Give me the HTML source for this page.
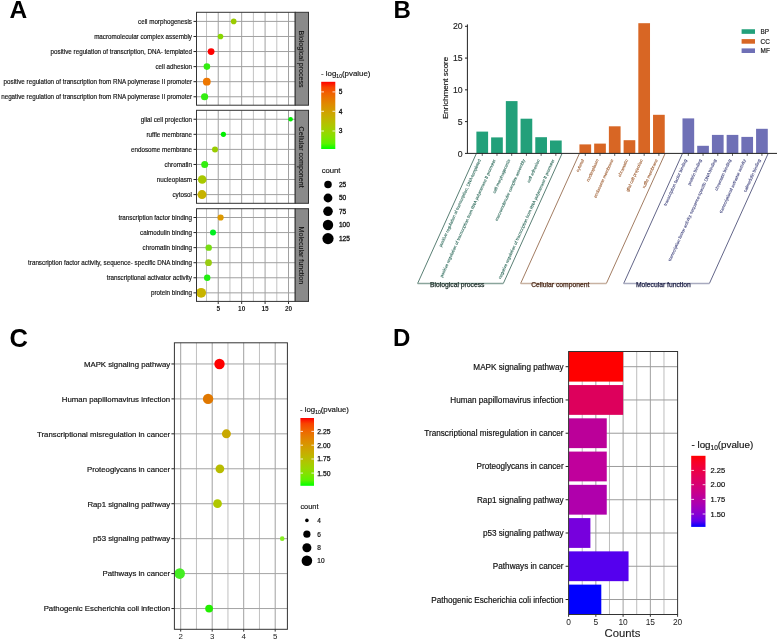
<!DOCTYPE html>
<html><head><meta charset="utf-8"><style>
html,body{margin:0;padding:0;background:#fff;}
svg{display:block;will-change:transform;font-family:"Liberation Sans", sans-serif;}
</style></head><body>
<svg width="777" height="640" viewBox="0 0 777 640">
<rect x="0" y="0" width="777" height="640" fill="#fff"/>
<text x="9.60" y="17.60" font-size="24.50" text-anchor="start" fill="#000" font-weight="bold" >A</text>
<rect x="196.50" y="12.30" width="98.70" height="92.90" fill="#fff" />
<line x1="206.52" y1="12.30" x2="206.52" y2="105.20" stroke="#c2c2c2" stroke-width="1.00"/>
<line x1="229.94" y1="12.30" x2="229.94" y2="105.20" stroke="#c2c2c2" stroke-width="1.00"/>
<line x1="253.38" y1="12.30" x2="253.38" y2="105.20" stroke="#c2c2c2" stroke-width="1.00"/>
<line x1="276.81" y1="12.30" x2="276.81" y2="105.20" stroke="#c2c2c2" stroke-width="1.00"/>
<line x1="218.23" y1="12.30" x2="218.23" y2="105.20" stroke="#a0a0a0" stroke-width="1.00"/>
<line x1="241.66" y1="12.30" x2="241.66" y2="105.20" stroke="#a0a0a0" stroke-width="1.00"/>
<line x1="265.09" y1="12.30" x2="265.09" y2="105.20" stroke="#a0a0a0" stroke-width="1.00"/>
<line x1="288.52" y1="12.30" x2="288.52" y2="105.20" stroke="#a0a0a0" stroke-width="1.00"/>
<line x1="196.50" y1="21.40" x2="295.20" y2="21.40" stroke="#a0a0a0" stroke-width="1.00"/>
<line x1="196.50" y1="36.47" x2="295.20" y2="36.47" stroke="#a0a0a0" stroke-width="1.00"/>
<line x1="196.50" y1="51.54" x2="295.20" y2="51.54" stroke="#a0a0a0" stroke-width="1.00"/>
<line x1="196.50" y1="66.61" x2="295.20" y2="66.61" stroke="#a0a0a0" stroke-width="1.00"/>
<line x1="196.50" y1="81.68" x2="295.20" y2="81.68" stroke="#a0a0a0" stroke-width="1.00"/>
<line x1="196.50" y1="96.75" x2="295.20" y2="96.75" stroke="#a0a0a0" stroke-width="1.00"/>
<circle cx="233.70" cy="21.40" r="2.80" fill="#9acb00"/>
<line x1="193.50" y1="21.40" x2="196.50" y2="21.40" stroke="#222" stroke-width="1.00"/>
<text x="192.00" y="24.00" font-size="6.27" text-anchor="end" fill="#111" font-weight="normal" stroke="#111" stroke-width="0.15" >cell morphogenesis</text>
<circle cx="220.50" cy="36.47" r="2.80" fill="#88d800"/>
<line x1="193.50" y1="36.47" x2="196.50" y2="36.47" stroke="#222" stroke-width="1.00"/>
<text x="192.00" y="39.07" font-size="6.27" text-anchor="end" fill="#111" font-weight="normal" stroke="#111" stroke-width="0.15" >macromolecular complex assembly</text>
<circle cx="211.10" cy="51.54" r="3.40" fill="#ff0000"/>
<line x1="193.50" y1="51.54" x2="196.50" y2="51.54" stroke="#222" stroke-width="1.00"/>
<text x="192.00" y="54.14" font-size="6.27" text-anchor="end" fill="#111" font-weight="normal" stroke="#111" stroke-width="0.15" >positive regulation of transcription, DNA- templated</text>
<circle cx="206.90" cy="66.61" r="3.30" fill="#33ee11"/>
<line x1="193.50" y1="66.61" x2="196.50" y2="66.61" stroke="#222" stroke-width="1.00"/>
<text x="192.00" y="69.21" font-size="6.27" text-anchor="end" fill="#111" font-weight="normal" stroke="#111" stroke-width="0.15" >cell adhesion</text>
<circle cx="206.80" cy="81.68" r="3.90" fill="#ee7700"/>
<line x1="193.50" y1="81.68" x2="196.50" y2="81.68" stroke="#222" stroke-width="1.00"/>
<text x="192.00" y="84.28" font-size="6.27" text-anchor="end" fill="#111" font-weight="normal" stroke="#111" stroke-width="0.15" >positive regulation of transcription from RNA polymerase II promoter</text>
<circle cx="204.60" cy="96.75" r="3.60" fill="#33ee11"/>
<line x1="193.50" y1="96.75" x2="196.50" y2="96.75" stroke="#222" stroke-width="1.00"/>
<text x="192.00" y="99.35" font-size="6.27" text-anchor="end" fill="#111" font-weight="normal" stroke="#111" stroke-width="0.15" >negative regulation of transcription from RNA polymerase II promoter</text>
<rect x="196.50" y="12.30" width="98.70" height="92.90" fill="none" stroke="#333" stroke-width="1"/>
<rect x="295.20" y="12.30" width="13.30" height="92.90" fill="#8a8a8a" stroke="#333" stroke-width="1"/>
<text x="0" y="0" font-size="7.1" text-anchor="middle" fill="#111" stroke="#111" stroke-width="0.12" transform="translate(299.00 59.05) rotate(90)">Biological process</text>
<rect x="196.50" y="110.30" width="98.70" height="93.00" fill="#fff" />
<line x1="206.52" y1="110.30" x2="206.52" y2="203.30" stroke="#c2c2c2" stroke-width="1.00"/>
<line x1="229.94" y1="110.30" x2="229.94" y2="203.30" stroke="#c2c2c2" stroke-width="1.00"/>
<line x1="253.38" y1="110.30" x2="253.38" y2="203.30" stroke="#c2c2c2" stroke-width="1.00"/>
<line x1="276.81" y1="110.30" x2="276.81" y2="203.30" stroke="#c2c2c2" stroke-width="1.00"/>
<line x1="218.23" y1="110.30" x2="218.23" y2="203.30" stroke="#a0a0a0" stroke-width="1.00"/>
<line x1="241.66" y1="110.30" x2="241.66" y2="203.30" stroke="#a0a0a0" stroke-width="1.00"/>
<line x1="265.09" y1="110.30" x2="265.09" y2="203.30" stroke="#a0a0a0" stroke-width="1.00"/>
<line x1="288.52" y1="110.30" x2="288.52" y2="203.30" stroke="#a0a0a0" stroke-width="1.00"/>
<line x1="196.50" y1="119.25" x2="295.20" y2="119.25" stroke="#a0a0a0" stroke-width="1.00"/>
<line x1="196.50" y1="134.32" x2="295.20" y2="134.32" stroke="#a0a0a0" stroke-width="1.00"/>
<line x1="196.50" y1="149.39" x2="295.20" y2="149.39" stroke="#a0a0a0" stroke-width="1.00"/>
<line x1="196.50" y1="164.46" x2="295.20" y2="164.46" stroke="#a0a0a0" stroke-width="1.00"/>
<line x1="196.50" y1="179.53" x2="295.20" y2="179.53" stroke="#a0a0a0" stroke-width="1.00"/>
<line x1="196.50" y1="194.60" x2="295.20" y2="194.60" stroke="#a0a0a0" stroke-width="1.00"/>
<circle cx="290.60" cy="119.25" r="2.30" fill="#00ee00"/>
<line x1="193.50" y1="119.25" x2="196.50" y2="119.25" stroke="#222" stroke-width="1.00"/>
<text x="192.00" y="121.85" font-size="6.27" text-anchor="end" fill="#111" font-weight="normal" stroke="#111" stroke-width="0.15" >glial cell projection</text>
<circle cx="223.40" cy="134.32" r="2.60" fill="#00ee00"/>
<line x1="193.50" y1="134.32" x2="196.50" y2="134.32" stroke="#222" stroke-width="1.00"/>
<text x="192.00" y="136.92" font-size="6.27" text-anchor="end" fill="#111" font-weight="normal" stroke="#111" stroke-width="0.15" >ruffle membrane</text>
<circle cx="215.00" cy="149.39" r="3.00" fill="#99cc00"/>
<line x1="193.50" y1="149.39" x2="196.50" y2="149.39" stroke="#222" stroke-width="1.00"/>
<text x="192.00" y="151.99" font-size="6.27" text-anchor="end" fill="#111" font-weight="normal" stroke="#111" stroke-width="0.15" >endosome membrane</text>
<circle cx="204.70" cy="164.46" r="3.50" fill="#33ee11"/>
<line x1="193.50" y1="164.46" x2="196.50" y2="164.46" stroke="#222" stroke-width="1.00"/>
<text x="192.00" y="167.06" font-size="6.27" text-anchor="end" fill="#111" font-weight="normal" stroke="#111" stroke-width="0.15" >chromatin</text>
<circle cx="202.20" cy="179.53" r="4.30" fill="#a8c800"/>
<line x1="193.50" y1="179.53" x2="196.50" y2="179.53" stroke="#222" stroke-width="1.00"/>
<text x="192.00" y="182.13" font-size="6.27" text-anchor="end" fill="#111" font-weight="normal" stroke="#111" stroke-width="0.15" >nucleoplasm</text>
<circle cx="202.00" cy="194.60" r="4.50" fill="#c6b200"/>
<line x1="193.50" y1="194.60" x2="196.50" y2="194.60" stroke="#222" stroke-width="1.00"/>
<text x="192.00" y="197.20" font-size="6.27" text-anchor="end" fill="#111" font-weight="normal" stroke="#111" stroke-width="0.15" >cytosol</text>
<rect x="196.50" y="110.30" width="98.70" height="93.00" fill="none" stroke="#333" stroke-width="1"/>
<rect x="295.20" y="110.30" width="13.30" height="93.00" fill="#8a8a8a" stroke="#333" stroke-width="1"/>
<text x="0" y="0" font-size="7.1" text-anchor="middle" fill="#111" stroke="#111" stroke-width="0.12" transform="translate(299.00 157.10) rotate(90)">Cellular component</text>
<rect x="196.50" y="208.70" width="98.70" height="92.70" fill="#fff" />
<line x1="206.52" y1="208.70" x2="206.52" y2="301.40" stroke="#c2c2c2" stroke-width="1.00"/>
<line x1="229.94" y1="208.70" x2="229.94" y2="301.40" stroke="#c2c2c2" stroke-width="1.00"/>
<line x1="253.38" y1="208.70" x2="253.38" y2="301.40" stroke="#c2c2c2" stroke-width="1.00"/>
<line x1="276.81" y1="208.70" x2="276.81" y2="301.40" stroke="#c2c2c2" stroke-width="1.00"/>
<line x1="218.23" y1="208.70" x2="218.23" y2="301.40" stroke="#a0a0a0" stroke-width="1.00"/>
<line x1="241.66" y1="208.70" x2="241.66" y2="301.40" stroke="#a0a0a0" stroke-width="1.00"/>
<line x1="265.09" y1="208.70" x2="265.09" y2="301.40" stroke="#a0a0a0" stroke-width="1.00"/>
<line x1="288.52" y1="208.70" x2="288.52" y2="301.40" stroke="#a0a0a0" stroke-width="1.00"/>
<line x1="196.50" y1="217.50" x2="295.20" y2="217.50" stroke="#a0a0a0" stroke-width="1.00"/>
<line x1="196.50" y1="232.57" x2="295.20" y2="232.57" stroke="#a0a0a0" stroke-width="1.00"/>
<line x1="196.50" y1="247.64" x2="295.20" y2="247.64" stroke="#a0a0a0" stroke-width="1.00"/>
<line x1="196.50" y1="262.71" x2="295.20" y2="262.71" stroke="#a0a0a0" stroke-width="1.00"/>
<line x1="196.50" y1="277.78" x2="295.20" y2="277.78" stroke="#a0a0a0" stroke-width="1.00"/>
<line x1="196.50" y1="292.85" x2="295.20" y2="292.85" stroke="#a0a0a0" stroke-width="1.00"/>
<circle cx="220.60" cy="217.50" r="3.10" fill="#dd9900"/>
<line x1="193.50" y1="217.50" x2="196.50" y2="217.50" stroke="#222" stroke-width="1.00"/>
<text x="192.00" y="220.10" font-size="6.27" text-anchor="end" fill="#111" font-weight="normal" stroke="#111" stroke-width="0.15" >transcription factor binding</text>
<circle cx="213.00" cy="232.57" r="3.00" fill="#00ee22"/>
<line x1="193.50" y1="232.57" x2="196.50" y2="232.57" stroke="#222" stroke-width="1.00"/>
<text x="192.00" y="235.17" font-size="6.27" text-anchor="end" fill="#111" font-weight="normal" stroke="#111" stroke-width="0.15" >calmodulin binding</text>
<circle cx="208.70" cy="247.64" r="3.20" fill="#77dd11"/>
<line x1="193.50" y1="247.64" x2="196.50" y2="247.64" stroke="#222" stroke-width="1.00"/>
<text x="192.00" y="250.24" font-size="6.27" text-anchor="end" fill="#111" font-weight="normal" stroke="#111" stroke-width="0.15" >chromatin binding</text>
<circle cx="208.50" cy="262.71" r="3.40" fill="#99cc11"/>
<line x1="193.50" y1="262.71" x2="196.50" y2="262.71" stroke="#222" stroke-width="1.00"/>
<text x="192.00" y="265.31" font-size="6.27" text-anchor="end" fill="#111" font-weight="normal" stroke="#111" stroke-width="0.15" >transcription factor activity, sequence- specific DNA binding</text>
<circle cx="207.20" cy="277.78" r="3.20" fill="#22ee11"/>
<line x1="193.50" y1="277.78" x2="196.50" y2="277.78" stroke="#222" stroke-width="1.00"/>
<text x="192.00" y="280.38" font-size="6.27" text-anchor="end" fill="#111" font-weight="normal" stroke="#111" stroke-width="0.15" >transcriptional activator activity</text>
<circle cx="201.10" cy="292.85" r="4.95" fill="#c8b400"/>
<line x1="193.50" y1="292.85" x2="196.50" y2="292.85" stroke="#222" stroke-width="1.00"/>
<text x="192.00" y="295.45" font-size="6.27" text-anchor="end" fill="#111" font-weight="normal" stroke="#111" stroke-width="0.15" >protein binding</text>
<rect x="196.50" y="208.70" width="98.70" height="92.70" fill="none" stroke="#333" stroke-width="1"/>
<rect x="295.20" y="208.70" width="13.30" height="92.70" fill="#8a8a8a" stroke="#333" stroke-width="1"/>
<text x="0" y="0" font-size="7.1" text-anchor="middle" fill="#111" stroke="#111" stroke-width="0.12" transform="translate(299.00 255.35) rotate(90)">Molecular function</text>
<line x1="218.23" y1="301.40" x2="218.23" y2="304.00" stroke="#333" stroke-width="1.00"/>
<text x="218.23" y="311.00" font-size="6.50" text-anchor="middle" fill="#222" font-weight="bold" >5</text>
<line x1="241.66" y1="301.40" x2="241.66" y2="304.00" stroke="#333" stroke-width="1.00"/>
<text x="241.66" y="311.00" font-size="6.50" text-anchor="middle" fill="#222" font-weight="bold" >10</text>
<line x1="265.09" y1="301.40" x2="265.09" y2="304.00" stroke="#333" stroke-width="1.00"/>
<text x="265.09" y="311.00" font-size="6.50" text-anchor="middle" fill="#222" font-weight="bold" >15</text>
<line x1="288.52" y1="301.40" x2="288.52" y2="304.00" stroke="#333" stroke-width="1.00"/>
<text x="288.52" y="311.00" font-size="6.50" text-anchor="middle" fill="#222" font-weight="bold" >20</text>
<text x="321.0" y="75.6" font-size="7.9" fill="#111" stroke="#111" stroke-width="0.15">- log<tspan font-size="5.0" dy="1.9">10</tspan><tspan dy="-1.9">(pvalue)</tspan></text>
<defs><linearGradient id="gA" x1="0" y1="0" x2="0" y2="1"><stop offset="0.000" stop-color="#ff0000"/><stop offset="0.083" stop-color="#f84300"/><stop offset="0.167" stop-color="#f16000"/><stop offset="0.250" stop-color="#e87600"/><stop offset="0.333" stop-color="#df8a00"/><stop offset="0.417" stop-color="#d49b00"/><stop offset="0.500" stop-color="#c9ab00"/><stop offset="0.583" stop-color="#bbba00"/><stop offset="0.667" stop-color="#abc900"/><stop offset="0.750" stop-color="#98d700"/><stop offset="0.833" stop-color="#7fe400"/><stop offset="0.917" stop-color="#5df200"/><stop offset="1.000" stop-color="#00ff00"/></linearGradient>
<linearGradient id="gC" x1="0" y1="0" x2="0" y2="1"><stop offset="0.000" stop-color="#ff0000"/><stop offset="0.083" stop-color="#f84300"/><stop offset="0.167" stop-color="#f16000"/><stop offset="0.250" stop-color="#e87600"/><stop offset="0.333" stop-color="#df8a00"/><stop offset="0.417" stop-color="#d49b00"/><stop offset="0.500" stop-color="#c9ab00"/><stop offset="0.583" stop-color="#bbba00"/><stop offset="0.667" stop-color="#abc900"/><stop offset="0.750" stop-color="#98d700"/><stop offset="0.833" stop-color="#7fe400"/><stop offset="0.917" stop-color="#5df200"/><stop offset="1.000" stop-color="#00ff00"/></linearGradient>
<linearGradient id="gD" x1="0" y1="0" x2="0" y2="1"><stop offset="0.000" stop-color="#ff0000"/><stop offset="0.083" stop-color="#f80025"/><stop offset="0.167" stop-color="#f0003c"/><stop offset="0.250" stop-color="#e80050"/><stop offset="0.333" stop-color="#df0063"/><stop offset="0.417" stop-color="#d50076"/><stop offset="0.500" stop-color="#ca0088"/><stop offset="0.583" stop-color="#bc009c"/><stop offset="0.667" stop-color="#ad00af"/><stop offset="0.750" stop-color="#9a00c3"/><stop offset="0.833" stop-color="#8200d6"/><stop offset="0.917" stop-color="#6000eb"/><stop offset="1.000" stop-color="#0000ff"/></linearGradient></defs>
<rect x="321.20" y="81.80" width="14.10" height="67.20" fill="url(#gA)" />
<line x1="321.20" y1="91.90" x2="324.00" y2="91.90" stroke="#fff" stroke-width="0.80"/>
<line x1="332.50" y1="91.90" x2="335.30" y2="91.90" stroke="#fff" stroke-width="0.80"/>
<text x="338.70" y="94.20" font-size="6.60" text-anchor="start" fill="#111" font-weight="normal" stroke="#111" stroke-width="0.30" >5</text>
<line x1="321.20" y1="111.30" x2="324.00" y2="111.30" stroke="#fff" stroke-width="0.80"/>
<line x1="332.50" y1="111.30" x2="335.30" y2="111.30" stroke="#fff" stroke-width="0.80"/>
<text x="338.70" y="113.60" font-size="6.60" text-anchor="start" fill="#111" font-weight="normal" stroke="#111" stroke-width="0.30" >4</text>
<line x1="321.20" y1="131.00" x2="324.00" y2="131.00" stroke="#fff" stroke-width="0.80"/>
<line x1="332.50" y1="131.00" x2="335.30" y2="131.00" stroke="#fff" stroke-width="0.80"/>
<text x="338.70" y="133.30" font-size="6.60" text-anchor="start" fill="#111" font-weight="normal" stroke="#111" stroke-width="0.30" >3</text>
<text x="321.70" y="173.20" font-size="7.70" text-anchor="start" fill="#111" font-weight="normal" stroke="#111" stroke-width="0.15" >count</text>
<circle cx="328.00" cy="184.40" r="3.75" fill="#000"/>
<text x="338.90" y="186.70" font-size="6.60" text-anchor="start" fill="#111" font-weight="normal" stroke="#111" stroke-width="0.30" >25</text>
<circle cx="328.00" cy="198.00" r="4.40" fill="#000"/>
<text x="338.90" y="200.30" font-size="6.60" text-anchor="start" fill="#111" font-weight="normal" stroke="#111" stroke-width="0.30" >50</text>
<circle cx="328.00" cy="211.30" r="4.80" fill="#000"/>
<text x="338.90" y="213.60" font-size="6.60" text-anchor="start" fill="#111" font-weight="normal" stroke="#111" stroke-width="0.30" >75</text>
<circle cx="328.00" cy="225.00" r="5.20" fill="#000"/>
<text x="338.90" y="227.30" font-size="6.60" text-anchor="start" fill="#111" font-weight="normal" stroke="#111" stroke-width="0.30" >100</text>
<circle cx="328.00" cy="238.60" r="5.60" fill="#000"/>
<text x="338.90" y="240.90" font-size="6.60" text-anchor="start" fill="#111" font-weight="normal" stroke="#111" stroke-width="0.30" >125</text>
<text x="393.40" y="18.10" font-size="24.00" text-anchor="start" fill="#000" font-weight="bold" >B</text>
<line x1="467.40" y1="24.40" x2="467.40" y2="153.90" stroke="#222" stroke-width="1.00"/>
<line x1="465.00" y1="153.40" x2="467.40" y2="153.40" stroke="#222" stroke-width="1.00"/>
<text x="462.60" y="156.50" font-size="8.70" text-anchor="end" fill="#222" font-weight="normal" stroke="#222" stroke-width="0.15" >0</text>
<line x1="465.00" y1="121.62" x2="467.40" y2="121.62" stroke="#222" stroke-width="1.00"/>
<text x="462.60" y="124.72" font-size="8.70" text-anchor="end" fill="#222" font-weight="normal" stroke="#222" stroke-width="0.15" >5</text>
<line x1="465.00" y1="89.85" x2="467.40" y2="89.85" stroke="#222" stroke-width="1.00"/>
<text x="462.60" y="92.95" font-size="8.70" text-anchor="end" fill="#222" font-weight="normal" stroke="#222" stroke-width="0.15" >10</text>
<line x1="465.00" y1="58.08" x2="467.40" y2="58.08" stroke="#222" stroke-width="1.00"/>
<text x="462.60" y="61.18" font-size="8.70" text-anchor="end" fill="#222" font-weight="normal" stroke="#222" stroke-width="0.15" >15</text>
<line x1="465.00" y1="26.30" x2="467.40" y2="26.30" stroke="#222" stroke-width="1.00"/>
<text x="462.60" y="29.40" font-size="8.70" text-anchor="end" fill="#222" font-weight="normal" stroke="#222" stroke-width="0.15" >20</text>
<text x="0" y="0" font-size="8" text-anchor="middle" fill="#111" stroke="#111" stroke-width="0.15" transform="translate(448.0 87.9) rotate(-90)">Enrichment score</text>
<rect x="476.40" y="131.60" width="11.70" height="21.80" fill="#22a07a" />
<rect x="491.12" y="137.40" width="11.70" height="16.00" fill="#22a07a" />
<rect x="505.84" y="101.10" width="11.70" height="52.30" fill="#22a07a" />
<rect x="520.56" y="118.70" width="11.70" height="34.70" fill="#22a07a" />
<rect x="535.28" y="137.20" width="11.70" height="16.20" fill="#22a07a" />
<rect x="550.00" y="140.50" width="11.70" height="12.90" fill="#22a07a" />
<line x1="482.25" y1="153.40" x2="482.25" y2="155.90" stroke="#333" stroke-width="0.80"/>
<line x1="496.97" y1="153.40" x2="496.97" y2="155.90" stroke="#333" stroke-width="0.80"/>
<line x1="511.69" y1="153.40" x2="511.69" y2="155.90" stroke="#333" stroke-width="0.80"/>
<line x1="526.41" y1="153.40" x2="526.41" y2="155.90" stroke="#333" stroke-width="0.80"/>
<line x1="541.13" y1="153.40" x2="541.13" y2="155.90" stroke="#333" stroke-width="0.80"/>
<line x1="555.85" y1="153.40" x2="555.85" y2="155.90" stroke="#333" stroke-width="0.80"/>
<line x1="476.20" y1="153.90" x2="417.60" y2="283.50" stroke="#2e5e50" stroke-width="0.80"/>
<line x1="561.90" y1="153.90" x2="503.30" y2="283.50" stroke="#2e5e50" stroke-width="0.80"/>
<line x1="417.60" y1="283.50" x2="503.30" y2="283.50" stroke="#8aa59c" stroke-width="1.40"/>
<text x="457.25" y="286.80" font-size="6.75" text-anchor="middle" fill="#22332e" font-weight="normal" stroke="#22332e" stroke-width="0.25" >Biological process</text>
<text x="0" y="0" font-size="4.3" text-anchor="end" fill="#2a6858" stroke="#2a6858" stroke-width="0.08" transform="translate(481.03 160.08) rotate(-65.67)">positive regulation of transcription, DNA-templated</text>
<text x="0" y="0" font-size="4.3" text-anchor="end" fill="#2a6858" stroke="#2a6858" stroke-width="0.08" transform="translate(495.75 160.08) rotate(-65.67)">positive regulation of transcription from RNA polymerase II promoter</text>
<text x="0" y="0" font-size="4.3" text-anchor="end" fill="#2a6858" stroke="#2a6858" stroke-width="0.08" transform="translate(510.47 160.08) rotate(-65.67)">cell morphogenesis</text>
<text x="0" y="0" font-size="4.3" text-anchor="end" fill="#2a6858" stroke="#2a6858" stroke-width="0.08" transform="translate(525.19 160.08) rotate(-65.67)">macromolecular complex assembly</text>
<text x="0" y="0" font-size="4.3" text-anchor="end" fill="#2a6858" stroke="#2a6858" stroke-width="0.08" transform="translate(539.91 160.08) rotate(-65.67)">cell adhesion</text>
<text x="0" y="0" font-size="4.3" text-anchor="end" fill="#2a6858" stroke="#2a6858" stroke-width="0.08" transform="translate(554.63 160.08) rotate(-65.67)">negative regulation of transcription from RNA polymerase II promoter</text>
<rect x="579.44" y="144.40" width="11.70" height="9.00" fill="#d86624" />
<rect x="594.16" y="143.60" width="11.70" height="9.80" fill="#d86624" />
<rect x="608.88" y="126.30" width="11.70" height="27.10" fill="#d86624" />
<rect x="623.60" y="140.20" width="11.70" height="13.20" fill="#d86624" />
<rect x="638.32" y="23.20" width="11.70" height="130.20" fill="#d86624" />
<rect x="653.04" y="114.80" width="11.70" height="38.60" fill="#d86624" />
<line x1="585.29" y1="153.40" x2="585.29" y2="155.90" stroke="#333" stroke-width="0.80"/>
<line x1="600.01" y1="153.40" x2="600.01" y2="155.90" stroke="#333" stroke-width="0.80"/>
<line x1="614.73" y1="153.40" x2="614.73" y2="155.90" stroke="#333" stroke-width="0.80"/>
<line x1="629.45" y1="153.40" x2="629.45" y2="155.90" stroke="#333" stroke-width="0.80"/>
<line x1="644.17" y1="153.40" x2="644.17" y2="155.90" stroke="#333" stroke-width="0.80"/>
<line x1="658.89" y1="153.40" x2="658.89" y2="155.90" stroke="#333" stroke-width="0.80"/>
<line x1="579.24" y1="153.90" x2="520.64" y2="283.50" stroke="#8a5a3a" stroke-width="0.80"/>
<line x1="664.94" y1="153.90" x2="606.34" y2="283.50" stroke="#8a5a3a" stroke-width="0.80"/>
<line x1="520.64" y1="283.50" x2="606.34" y2="283.50" stroke="#c8b2a2" stroke-width="1.40"/>
<text x="560.29" y="286.80" font-size="6.75" text-anchor="middle" fill="#4a2a1a" font-weight="normal" stroke="#4a2a1a" stroke-width="0.25" >Cellular component</text>
<text x="0" y="0" font-size="4.3" text-anchor="end" fill="#9a5628" stroke="#9a5628" stroke-width="0.08" transform="translate(584.07 160.08) rotate(-65.67)">cytosol</text>
<text x="0" y="0" font-size="4.3" text-anchor="end" fill="#9a5628" stroke="#9a5628" stroke-width="0.08" transform="translate(598.79 160.08) rotate(-65.67)">nucleoplasm</text>
<text x="0" y="0" font-size="4.3" text-anchor="end" fill="#9a5628" stroke="#9a5628" stroke-width="0.08" transform="translate(613.51 160.08) rotate(-65.67)">endosome membrane</text>
<text x="0" y="0" font-size="4.3" text-anchor="end" fill="#9a5628" stroke="#9a5628" stroke-width="0.08" transform="translate(628.23 160.08) rotate(-65.67)">chromatin</text>
<text x="0" y="0" font-size="4.3" text-anchor="end" fill="#9a5628" stroke="#9a5628" stroke-width="0.08" transform="translate(642.95 160.08) rotate(-65.67)">glial cell projection</text>
<text x="0" y="0" font-size="4.3" text-anchor="end" fill="#9a5628" stroke="#9a5628" stroke-width="0.08" transform="translate(657.67 160.08) rotate(-65.67)">ruffle membrane</text>
<rect x="682.48" y="118.40" width="11.70" height="35.00" fill="#6f70b6" />
<rect x="697.20" y="145.80" width="11.70" height="7.60" fill="#6f70b6" />
<rect x="711.92" y="134.90" width="11.70" height="18.50" fill="#6f70b6" />
<rect x="726.64" y="134.90" width="11.70" height="18.50" fill="#6f70b6" />
<rect x="741.36" y="136.90" width="11.70" height="16.50" fill="#6f70b6" />
<rect x="756.08" y="128.80" width="11.70" height="24.60" fill="#6f70b6" />
<line x1="688.33" y1="153.40" x2="688.33" y2="155.90" stroke="#333" stroke-width="0.80"/>
<line x1="703.05" y1="153.40" x2="703.05" y2="155.90" stroke="#333" stroke-width="0.80"/>
<line x1="717.77" y1="153.40" x2="717.77" y2="155.90" stroke="#333" stroke-width="0.80"/>
<line x1="732.49" y1="153.40" x2="732.49" y2="155.90" stroke="#333" stroke-width="0.80"/>
<line x1="747.21" y1="153.40" x2="747.21" y2="155.90" stroke="#333" stroke-width="0.80"/>
<line x1="761.93" y1="153.40" x2="761.93" y2="155.90" stroke="#333" stroke-width="0.80"/>
<line x1="682.28" y1="153.90" x2="623.68" y2="283.50" stroke="#3a3d6a" stroke-width="0.80"/>
<line x1="767.98" y1="153.90" x2="709.38" y2="283.50" stroke="#3a3d6a" stroke-width="0.80"/>
<line x1="623.68" y1="283.50" x2="709.38" y2="283.50" stroke="#a8aabf" stroke-width="1.40"/>
<text x="663.33" y="286.80" font-size="6.75" text-anchor="middle" fill="#1f2247" font-weight="normal" stroke="#1f2247" stroke-width="0.25" >Molecular function</text>
<text x="0" y="0" font-size="4.3" text-anchor="end" fill="#383c78" stroke="#383c78" stroke-width="0.08" transform="translate(687.11 160.08) rotate(-65.67)">transcription factor binding</text>
<text x="0" y="0" font-size="4.3" text-anchor="end" fill="#383c78" stroke="#383c78" stroke-width="0.08" transform="translate(701.83 160.08) rotate(-65.67)">protein binding</text>
<text x="0" y="0" font-size="4.3" text-anchor="end" fill="#383c78" stroke="#383c78" stroke-width="0.08" transform="translate(716.55 160.08) rotate(-65.67)">transcription factor activity, sequence-specific DNA binding</text>
<text x="0" y="0" font-size="4.3" text-anchor="end" fill="#383c78" stroke="#383c78" stroke-width="0.08" transform="translate(731.27 160.08) rotate(-65.67)">chromatin binding</text>
<text x="0" y="0" font-size="4.3" text-anchor="end" fill="#383c78" stroke="#383c78" stroke-width="0.08" transform="translate(745.99 160.08) rotate(-65.67)">transcriptional activator activity</text>
<text x="0" y="0" font-size="4.3" text-anchor="end" fill="#383c78" stroke="#383c78" stroke-width="0.08" transform="translate(760.71 160.08) rotate(-65.67)">calmodulin binding</text>
<line x1="467.40" y1="153.40" x2="777.00" y2="153.40" stroke="#222" stroke-width="1.00"/>
<rect x="741.60" y="29.25" width="13.40" height="4.60" fill="#22a07a" />
<text x="760.60" y="33.85" font-size="6.40" text-anchor="start" fill="#222" font-weight="normal" stroke="#222" stroke-width="0.20" >BP</text>
<rect x="741.60" y="39.10" width="13.40" height="4.60" fill="#d86624" />
<text x="760.60" y="43.70" font-size="6.40" text-anchor="start" fill="#222" font-weight="normal" stroke="#222" stroke-width="0.20" >CC</text>
<rect x="741.60" y="48.40" width="13.40" height="4.60" fill="#6f70b6" />
<text x="760.60" y="53.00" font-size="6.40" text-anchor="start" fill="#222" font-weight="normal" stroke="#222" stroke-width="0.20" >MF</text>
<text x="9.60" y="346.60" font-size="25.50" text-anchor="start" fill="#000" font-weight="bold" >C</text>
<rect x="174.40" y="342.80" width="113.00" height="286.50" fill="#fff" />
<line x1="196.45" y1="342.80" x2="196.45" y2="629.30" stroke="#c0c0c0" stroke-width="1.00"/>
<line x1="227.95" y1="342.80" x2="227.95" y2="629.30" stroke="#c0c0c0" stroke-width="1.00"/>
<line x1="259.45" y1="342.80" x2="259.45" y2="629.30" stroke="#c0c0c0" stroke-width="1.00"/>
<line x1="180.70" y1="342.80" x2="180.70" y2="629.30" stroke="#a0a0a0" stroke-width="1.00"/>
<line x1="212.20" y1="342.80" x2="212.20" y2="629.30" stroke="#a0a0a0" stroke-width="1.00"/>
<line x1="243.70" y1="342.80" x2="243.70" y2="629.30" stroke="#a0a0a0" stroke-width="1.00"/>
<line x1="275.20" y1="342.80" x2="275.20" y2="629.30" stroke="#a0a0a0" stroke-width="1.00"/>
<line x1="174.40" y1="363.96" x2="287.40" y2="363.96" stroke="#a4a4a4" stroke-width="1.00"/>
<line x1="174.40" y1="398.90" x2="287.40" y2="398.90" stroke="#a4a4a4" stroke-width="1.00"/>
<line x1="174.40" y1="433.84" x2="287.40" y2="433.84" stroke="#a4a4a4" stroke-width="1.00"/>
<line x1="174.40" y1="468.78" x2="287.40" y2="468.78" stroke="#a4a4a4" stroke-width="1.00"/>
<line x1="174.40" y1="503.72" x2="287.40" y2="503.72" stroke="#a4a4a4" stroke-width="1.00"/>
<line x1="174.40" y1="538.66" x2="287.40" y2="538.66" stroke="#a4a4a4" stroke-width="1.00"/>
<line x1="174.40" y1="573.60" x2="287.40" y2="573.60" stroke="#a4a4a4" stroke-width="1.00"/>
<line x1="174.40" y1="608.54" x2="287.40" y2="608.54" stroke="#a4a4a4" stroke-width="1.00"/>
<circle cx="219.50" cy="363.96" r="5.20" fill="#ff0000"/>
<line x1="171.40" y1="363.96" x2="174.40" y2="363.96" stroke="#222" stroke-width="1.00"/>
<text x="170.20" y="366.76" font-size="7.80" text-anchor="end" fill="#111" font-weight="normal" stroke="#111" stroke-width="0.18" >MAPK signaling pathway</text>
<circle cx="208.10" cy="398.90" r="5.20" fill="#e07800"/>
<line x1="171.40" y1="398.90" x2="174.40" y2="398.90" stroke="#222" stroke-width="1.00"/>
<text x="170.20" y="401.70" font-size="7.80" text-anchor="end" fill="#111" font-weight="normal" stroke="#111" stroke-width="0.18" >Human papillomavirus infection</text>
<circle cx="226.40" cy="433.84" r="4.50" fill="#c8a800"/>
<line x1="171.40" y1="433.84" x2="174.40" y2="433.84" stroke="#222" stroke-width="1.00"/>
<text x="170.20" y="436.64" font-size="7.80" text-anchor="end" fill="#111" font-weight="normal" stroke="#111" stroke-width="0.18" >Transcriptional misregulation in cancer</text>
<circle cx="219.90" cy="468.78" r="4.40" fill="#b8bc00"/>
<line x1="171.40" y1="468.78" x2="174.40" y2="468.78" stroke="#222" stroke-width="1.00"/>
<text x="170.20" y="471.58" font-size="7.80" text-anchor="end" fill="#111" font-weight="normal" stroke="#111" stroke-width="0.18" >Proteoglycans in cancer</text>
<circle cx="217.50" cy="503.72" r="4.40" fill="#b0c800"/>
<line x1="171.40" y1="503.72" x2="174.40" y2="503.72" stroke="#222" stroke-width="1.00"/>
<text x="170.20" y="506.52" font-size="7.80" text-anchor="end" fill="#111" font-weight="normal" stroke="#111" stroke-width="0.18" >Rap1 signaling pathway</text>
<circle cx="282.20" cy="538.66" r="2.30" fill="#88ee22"/>
<line x1="171.40" y1="538.66" x2="174.40" y2="538.66" stroke="#222" stroke-width="1.00"/>
<text x="170.20" y="541.46" font-size="7.80" text-anchor="end" fill="#111" font-weight="normal" stroke="#111" stroke-width="0.18" >p53 signaling pathway</text>
<circle cx="179.70" cy="573.60" r="5.30" fill="#44ee22"/>
<line x1="171.40" y1="573.60" x2="174.40" y2="573.60" stroke="#222" stroke-width="1.00"/>
<text x="170.20" y="576.40" font-size="7.80" text-anchor="end" fill="#111" font-weight="normal" stroke="#111" stroke-width="0.18" >Pathways in cancer</text>
<circle cx="209.10" cy="608.54" r="3.90" fill="#22ee00"/>
<line x1="171.40" y1="608.54" x2="174.40" y2="608.54" stroke="#222" stroke-width="1.00"/>
<text x="170.20" y="611.34" font-size="7.80" text-anchor="end" fill="#111" font-weight="normal" stroke="#111" stroke-width="0.18" >Pathogenic Escherichia coli infection</text>
<rect x="174.40" y="342.80" width="113.00" height="286.50" fill="none" stroke="#333" stroke-width="1"/>
<line x1="180.70" y1="629.30" x2="180.70" y2="631.60" stroke="#333" stroke-width="1.00"/>
<text x="180.70" y="639.00" font-size="7.90" text-anchor="middle" fill="#222" font-weight="normal" >2</text>
<line x1="212.20" y1="629.30" x2="212.20" y2="631.60" stroke="#333" stroke-width="1.00"/>
<text x="212.20" y="639.00" font-size="7.90" text-anchor="middle" fill="#222" font-weight="normal" >3</text>
<line x1="243.70" y1="629.30" x2="243.70" y2="631.60" stroke="#333" stroke-width="1.00"/>
<text x="243.70" y="639.00" font-size="7.90" text-anchor="middle" fill="#222" font-weight="normal" >4</text>
<line x1="275.20" y1="629.30" x2="275.20" y2="631.60" stroke="#333" stroke-width="1.00"/>
<text x="275.20" y="639.00" font-size="7.90" text-anchor="middle" fill="#222" font-weight="normal" >5</text>
<text x="300.0" y="412.3" font-size="7.8" fill="#111" stroke="#111" stroke-width="0.15">- log<tspan font-size="5.0" dy="1.9">10</tspan><tspan dy="-1.9">(pvalue)</tspan></text>
<rect x="300.40" y="418.00" width="13.60" height="67.80" fill="url(#gC)" />
<line x1="300.40" y1="431.40" x2="303.00" y2="431.40" stroke="#fff" stroke-width="0.80"/>
<line x1="311.40" y1="431.40" x2="314.00" y2="431.40" stroke="#fff" stroke-width="0.80"/>
<text x="317.30" y="433.80" font-size="6.80" text-anchor="start" fill="#111" font-weight="normal" stroke="#111" stroke-width="0.25" >2.25</text>
<line x1="300.40" y1="445.20" x2="303.00" y2="445.20" stroke="#fff" stroke-width="0.80"/>
<line x1="311.40" y1="445.20" x2="314.00" y2="445.20" stroke="#fff" stroke-width="0.80"/>
<text x="317.30" y="447.60" font-size="6.80" text-anchor="start" fill="#111" font-weight="normal" stroke="#111" stroke-width="0.25" >2.00</text>
<line x1="300.40" y1="459.00" x2="303.00" y2="459.00" stroke="#fff" stroke-width="0.80"/>
<line x1="311.40" y1="459.00" x2="314.00" y2="459.00" stroke="#fff" stroke-width="0.80"/>
<text x="317.30" y="461.40" font-size="6.80" text-anchor="start" fill="#111" font-weight="normal" stroke="#111" stroke-width="0.25" >1.75</text>
<line x1="300.40" y1="473.10" x2="303.00" y2="473.10" stroke="#fff" stroke-width="0.80"/>
<line x1="311.40" y1="473.10" x2="314.00" y2="473.10" stroke="#fff" stroke-width="0.80"/>
<text x="317.30" y="475.50" font-size="6.80" text-anchor="start" fill="#111" font-weight="normal" stroke="#111" stroke-width="0.25" >1.50</text>
<text x="300.40" y="508.60" font-size="7.40" text-anchor="start" fill="#111" font-weight="normal" stroke="#111" stroke-width="0.15" >count</text>
<circle cx="306.90" cy="520.40" r="1.80" fill="#000"/>
<text x="317.30" y="522.70" font-size="6.50" text-anchor="start" fill="#111" font-weight="normal" stroke="#111" stroke-width="0.20" >4</text>
<circle cx="306.90" cy="534.20" r="3.60" fill="#000"/>
<text x="317.30" y="536.50" font-size="6.50" text-anchor="start" fill="#111" font-weight="normal" stroke="#111" stroke-width="0.20" >6</text>
<circle cx="306.90" cy="547.70" r="4.50" fill="#000"/>
<text x="317.30" y="550.00" font-size="6.50" text-anchor="start" fill="#111" font-weight="normal" stroke="#111" stroke-width="0.20" >8</text>
<circle cx="306.90" cy="560.70" r="5.30" fill="#000"/>
<text x="317.30" y="563.00" font-size="6.50" text-anchor="start" fill="#111" font-weight="normal" stroke="#111" stroke-width="0.20" >10</text>
<text x="393.10" y="346.00" font-size="24.00" text-anchor="start" fill="#000" font-weight="bold" >D</text>
<rect x="568.60" y="351.50" width="109.00" height="263.00" fill="#fff" />
<line x1="582.23" y1="351.50" x2="582.23" y2="614.50" stroke="#bdbdbd" stroke-width="1.00"/>
<line x1="609.48" y1="351.50" x2="609.48" y2="614.50" stroke="#bdbdbd" stroke-width="1.00"/>
<line x1="636.73" y1="351.50" x2="636.73" y2="614.50" stroke="#bdbdbd" stroke-width="1.00"/>
<line x1="663.98" y1="351.50" x2="663.98" y2="614.50" stroke="#bdbdbd" stroke-width="1.00"/>
<line x1="595.85" y1="351.50" x2="595.85" y2="614.50" stroke="#a0a0a0" stroke-width="1.00"/>
<line x1="623.10" y1="351.50" x2="623.10" y2="614.50" stroke="#a0a0a0" stroke-width="1.00"/>
<line x1="650.35" y1="351.50" x2="650.35" y2="614.50" stroke="#a0a0a0" stroke-width="1.00"/>
<line x1="568.60" y1="366.70" x2="677.60" y2="366.70" stroke="#9c9c9c" stroke-width="1.00"/>
<line x1="568.60" y1="399.96" x2="677.60" y2="399.96" stroke="#9c9c9c" stroke-width="1.00"/>
<line x1="568.60" y1="433.22" x2="677.60" y2="433.22" stroke="#9c9c9c" stroke-width="1.00"/>
<line x1="568.60" y1="466.48" x2="677.60" y2="466.48" stroke="#9c9c9c" stroke-width="1.00"/>
<line x1="568.60" y1="499.74" x2="677.60" y2="499.74" stroke="#9c9c9c" stroke-width="1.00"/>
<line x1="568.60" y1="533.00" x2="677.60" y2="533.00" stroke="#9c9c9c" stroke-width="1.00"/>
<line x1="568.60" y1="566.26" x2="677.60" y2="566.26" stroke="#9c9c9c" stroke-width="1.00"/>
<line x1="568.60" y1="599.52" x2="677.60" y2="599.52" stroke="#9c9c9c" stroke-width="1.00"/>
<rect x="568.60" y="351.80" width="54.50" height="29.80" fill="#ff0000" />
<line x1="565.60" y1="366.70" x2="568.60" y2="366.70" stroke="#222" stroke-width="1.00"/>
<text x="563.60" y="369.70" font-size="8.17" text-anchor="end" fill="#111" font-weight="normal" stroke="#111" stroke-width="0.18" >MAPK signaling pathway</text>
<rect x="568.60" y="385.06" width="54.50" height="29.80" fill="#dd005c" />
<line x1="565.60" y1="399.96" x2="568.60" y2="399.96" stroke="#222" stroke-width="1.00"/>
<text x="563.60" y="402.96" font-size="8.17" text-anchor="end" fill="#111" font-weight="normal" stroke="#111" stroke-width="0.18" >Human papillomavirus infection</text>
<rect x="568.60" y="418.32" width="38.15" height="29.80" fill="#bb0099" />
<line x1="565.60" y1="433.22" x2="568.60" y2="433.22" stroke="#222" stroke-width="1.00"/>
<text x="563.60" y="436.22" font-size="8.17" text-anchor="end" fill="#111" font-weight="normal" stroke="#111" stroke-width="0.18" >Transcriptional misregulation in cancer</text>
<rect x="568.60" y="451.58" width="38.15" height="29.80" fill="#c0009c" />
<line x1="565.60" y1="466.48" x2="568.60" y2="466.48" stroke="#222" stroke-width="1.00"/>
<text x="563.60" y="469.48" font-size="8.17" text-anchor="end" fill="#111" font-weight="normal" stroke="#111" stroke-width="0.18" >Proteoglycans in cancer</text>
<rect x="568.60" y="484.84" width="38.15" height="29.80" fill="#b000ac" />
<line x1="565.60" y1="499.74" x2="568.60" y2="499.74" stroke="#222" stroke-width="1.00"/>
<text x="563.60" y="502.74" font-size="8.17" text-anchor="end" fill="#111" font-weight="normal" stroke="#111" stroke-width="0.18" >Rap1 signaling pathway</text>
<rect x="568.60" y="518.10" width="21.80" height="29.80" fill="#7700dd" />
<line x1="565.60" y1="533.00" x2="568.60" y2="533.00" stroke="#222" stroke-width="1.00"/>
<text x="563.60" y="536.00" font-size="8.17" text-anchor="end" fill="#111" font-weight="normal" stroke="#111" stroke-width="0.18" >p53 signaling pathway</text>
<rect x="568.60" y="551.36" width="59.95" height="29.80" fill="#5500ee" />
<line x1="565.60" y1="566.26" x2="568.60" y2="566.26" stroke="#222" stroke-width="1.00"/>
<text x="563.60" y="569.26" font-size="8.17" text-anchor="end" fill="#111" font-weight="normal" stroke="#111" stroke-width="0.18" >Pathways in cancer</text>
<rect x="568.60" y="584.62" width="32.70" height="29.80" fill="#0000ff" />
<line x1="565.60" y1="599.52" x2="568.60" y2="599.52" stroke="#222" stroke-width="1.00"/>
<text x="563.60" y="602.52" font-size="8.17" text-anchor="end" fill="#111" font-weight="normal" stroke="#111" stroke-width="0.18" >Pathogenic Escherichia coli infection</text>
<rect x="568.60" y="351.50" width="109.00" height="263.00" fill="none" stroke="#333" stroke-width="1"/>
<line x1="568.60" y1="614.50" x2="568.60" y2="616.80" stroke="#333" stroke-width="1.00"/>
<text x="568.60" y="625.20" font-size="8.40" text-anchor="middle" fill="#222" font-weight="normal" >0</text>
<line x1="595.85" y1="614.50" x2="595.85" y2="616.80" stroke="#333" stroke-width="1.00"/>
<text x="595.85" y="625.20" font-size="8.40" text-anchor="middle" fill="#222" font-weight="normal" >5</text>
<line x1="623.10" y1="614.50" x2="623.10" y2="616.80" stroke="#333" stroke-width="1.00"/>
<text x="623.10" y="625.20" font-size="8.40" text-anchor="middle" fill="#222" font-weight="normal" >10</text>
<line x1="650.35" y1="614.50" x2="650.35" y2="616.80" stroke="#333" stroke-width="1.00"/>
<text x="650.35" y="625.20" font-size="8.40" text-anchor="middle" fill="#222" font-weight="normal" >15</text>
<line x1="677.60" y1="614.50" x2="677.60" y2="616.80" stroke="#333" stroke-width="1.00"/>
<text x="677.60" y="625.20" font-size="8.40" text-anchor="middle" fill="#222" font-weight="normal" >20</text>
<text x="622.50" y="636.80" font-size="11.30" text-anchor="middle" fill="#1a1a1a" font-weight="normal" stroke="#1a1a1a" stroke-width="0.10" >Counts</text>
<text x="691.5" y="447.6" font-size="9.8" fill="#111" stroke="#111" stroke-width="0.15">- log<tspan font-size="6.5" dy="2.2">10</tspan><tspan dy="-2.2">(pvalue)</tspan></text>
<rect x="691.20" y="455.80" width="14.30" height="71.10" fill="url(#gD)" />
<line x1="691.20" y1="470.40" x2="694.00" y2="470.40" stroke="#fff" stroke-width="0.80"/>
<line x1="702.70" y1="470.40" x2="705.50" y2="470.40" stroke="#fff" stroke-width="0.80"/>
<text x="710.60" y="473.10" font-size="7.50" text-anchor="start" fill="#111" font-weight="normal" stroke="#111" stroke-width="0.20" >2.25</text>
<line x1="691.20" y1="484.70" x2="694.00" y2="484.70" stroke="#fff" stroke-width="0.80"/>
<line x1="702.70" y1="484.70" x2="705.50" y2="484.70" stroke="#fff" stroke-width="0.80"/>
<text x="710.60" y="487.40" font-size="7.50" text-anchor="start" fill="#111" font-weight="normal" stroke="#111" stroke-width="0.20" >2.00</text>
<line x1="691.20" y1="499.40" x2="694.00" y2="499.40" stroke="#fff" stroke-width="0.80"/>
<line x1="702.70" y1="499.40" x2="705.50" y2="499.40" stroke="#fff" stroke-width="0.80"/>
<text x="710.60" y="502.10" font-size="7.50" text-anchor="start" fill="#111" font-weight="normal" stroke="#111" stroke-width="0.20" >1.75</text>
<line x1="691.20" y1="514.00" x2="694.00" y2="514.00" stroke="#fff" stroke-width="0.80"/>
<line x1="702.70" y1="514.00" x2="705.50" y2="514.00" stroke="#fff" stroke-width="0.80"/>
<text x="710.60" y="516.70" font-size="7.50" text-anchor="start" fill="#111" font-weight="normal" stroke="#111" stroke-width="0.20" >1.50</text>
</svg></body></html>
